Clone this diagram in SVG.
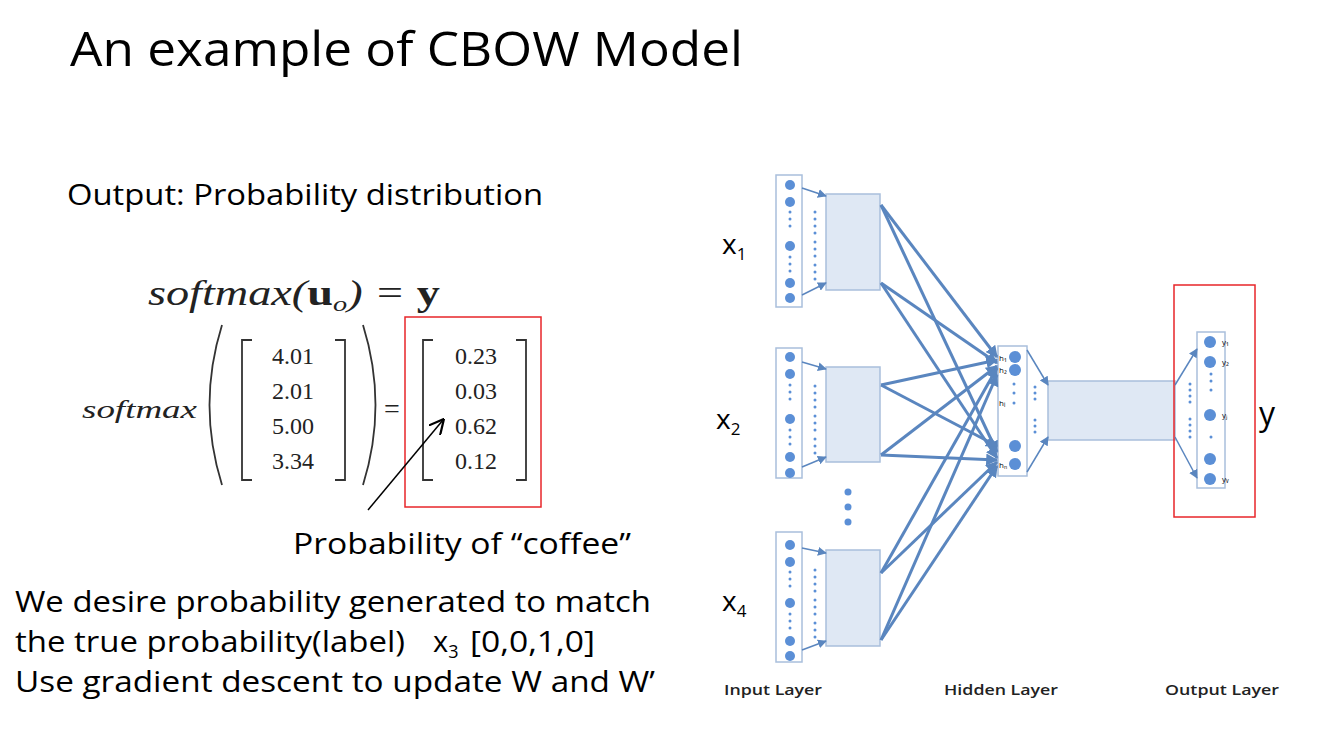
<svg xmlns="http://www.w3.org/2000/svg" width="1319" height="736" viewBox="0 0 1319 736">
<defs>
<style>
.t{font-family:"Open Sans","Liberation Sans",sans-serif;fill:#000}
.m{font-family:"Liberation Serif",serif;fill:#222}
.col{fill:#fff;stroke:#a9bfdc;stroke-width:1.5}
.mat{fill:#dfe8f4;stroke:#a9bfdc;stroke-width:1.5}
.n{fill:#5b8fd6}
.d{fill:#5b8fd6}
.a{stroke:#5a86bf;stroke-width:3;fill:none;marker-end:url(#ah)}
.s{stroke:#5a86bf;stroke-width:1.5;fill:none;marker-end:url(#as)}
.lab{font-family:"Open Sans","Liberation Sans",sans-serif;font-size:15px;font-weight:600;fill:#222}
.br{stroke:#333;stroke-width:1.8;fill:none}
</style>
<marker id="ah" viewBox="0 0 10 10" refX="9" refY="5" markerWidth="4" markerHeight="4" orient="auto"><path d="M0,0L10,5L0,10z" fill="#5a86bf"/></marker>
<marker id="as" viewBox="0 0 10 10" refX="9" refY="5" markerWidth="6" markerHeight="6" orient="auto"><path d="M0,0L10,5L0,10z" fill="#5a86bf"/></marker>
<marker id="bk" viewBox="0 0 10 10" refX="9" refY="5" markerWidth="10" markerHeight="10" orient="auto"><path d="M0,0L10,5L0,10" fill="none" stroke="#000" stroke-width="1.5"/></marker>
</defs>
<rect width="1319" height="736" fill="#fff"/>
<g id="title"><text class="t" x="70" y="66" font-size="48" textLength="673" lengthAdjust="spacingAndGlyphs">An example of CBOW Model</text></g>
<g id="left-text">
<text class="t" x="67" y="205" font-size="30" textLength="476" lengthAdjust="spacingAndGlyphs">Output: Probability distribution</text>
<text class="m" x="148" y="305" font-size="36" font-style="italic" textLength="292" lengthAdjust="spacingAndGlyphs">softmax(<tspan font-weight="bold" font-style="normal">u</tspan><tspan font-size="22" dy="6">o</tspan><tspan dy="-6">) = </tspan><tspan font-weight="bold" font-style="normal">y</tspan></text>
<text class="m" x="82" y="418" font-size="26" font-style="italic" textLength="115" lengthAdjust="spacingAndGlyphs">softmax</text>
<path class="br" d="M222,325 Q197,405 222,485"/>
<path class="br" d="M363,325 Q388,405 363,485"/>
<path class="br" d="M252,340 H242 V480 H252"/>
<path class="br" d="M335,340 H345 V480 H335"/>
<text class="m" font-size="24" text-anchor="middle"><tspan x="293" y="364">4.01</tspan><tspan x="293" y="399">2.01</tspan><tspan x="293" y="434">5.00</tspan><tspan x="293" y="469">3.34</tspan></text>
<text class="m" x="384" y="418" font-size="28">=</text>
<path class="br" d="M433,340 H423 V480 H433"/>
<path class="br" d="M516,340 H526 V480 H516"/>
<text class="m" font-size="24" text-anchor="middle"><tspan x="476" y="364">0.23</tspan><tspan x="476" y="399">0.03</tspan><tspan x="476" y="434">0.62</tspan><tspan x="476" y="469">0.12</tspan></text>
<rect x="405" y="317" width="136" height="190" fill="none" stroke="#e8262a" stroke-width="1.5"/>
<line x1="368" y1="510" x2="443" y2="420" stroke="#000" stroke-width="1.5" marker-end="url(#bk)"/>
<text class="t" x="293" y="554" font-size="29" textLength="338" lengthAdjust="spacingAndGlyphs">Probability of “coffee”</text>
<text class="t" x="15" y="612" font-size="29" textLength="636" lengthAdjust="spacingAndGlyphs">We desire probability generated to match</text>
<text class="t" x="15" y="652" font-size="29" textLength="390" lengthAdjust="spacingAndGlyphs">the true probability(label)</text>
<text class="t" x="433" y="652" font-size="29">x<tspan font-size="18" dy="6">3</tspan></text>
<text class="t" x="470" y="652" font-size="29" textLength="125" lengthAdjust="spacingAndGlyphs">[0,0,1,0]</text>
<text class="t" x="15" y="692" font-size="29" textLength="640" lengthAdjust="spacingAndGlyphs">Use gradient descent to update W and W’</text>
</g>
<g id="input1">
<rect class="col" x="776" y="175" width="26" height="132"/>
<circle class="n" cx="790" cy="185" r="5"/><circle class="n" cx="790" cy="202" r="5"/><circle class="n" cx="790" cy="246" r="5"/><circle class="n" cx="790" cy="283" r="5"/><circle class="n" cx="790" cy="298" r="5"/>
<g class="d"><circle cx="790" cy="212" r="1.5"/><circle cx="790" cy="219" r="1.5"/><circle cx="790" cy="226" r="1.5"/><circle cx="790" cy="257" r="1.5"/><circle cx="790" cy="264" r="1.5"/><circle cx="790" cy="271" r="1.5"/>
<circle cx="815" cy="212" r="1.5"/><circle cx="815" cy="219" r="1.5"/><circle cx="815" cy="226" r="1.5"/><circle cx="815" cy="233" r="1.5"/><circle cx="815" cy="242" r="1.5"/><circle cx="815" cy="249" r="1.5"/><circle cx="815" cy="256" r="1.5"/><circle cx="815" cy="265" r="1.5"/><circle cx="815" cy="272" r="1.5"/><circle cx="815" cy="279" r="1.5"/></g>
<rect class="mat" x="826" y="194" width="54" height="96"/>
<text class="t" x="722" y="254" font-size="28">x<tspan font-size="17" dy="6">1</tspan></text>
</g>
<g id="input2">
<rect class="col" x="776" y="348" width="26" height="130"/>
<circle class="n" cx="790" cy="357" r="5"/><circle class="n" cx="790" cy="374" r="5"/><circle class="n" cx="790" cy="419" r="5"/><circle class="n" cx="790" cy="457" r="5"/><circle class="n" cx="790" cy="473" r="5"/>
<g class="d"><circle cx="790" cy="385" r="1.5"/><circle cx="790" cy="392" r="1.5"/><circle cx="790" cy="399" r="1.5"/><circle cx="790" cy="430" r="1.5"/><circle cx="790" cy="437" r="1.5"/><circle cx="790" cy="444" r="1.5"/>
<circle cx="815" cy="386" r="1.5"/><circle cx="815" cy="393" r="1.5"/><circle cx="815" cy="400" r="1.5"/><circle cx="815" cy="407" r="1.5"/><circle cx="815" cy="416" r="1.5"/><circle cx="815" cy="423" r="1.5"/><circle cx="815" cy="430" r="1.5"/><circle cx="815" cy="439" r="1.5"/><circle cx="815" cy="446" r="1.5"/><circle cx="815" cy="453" r="1.5"/></g>
<rect class="mat" x="826" y="367" width="54" height="95"/>
<text class="t" x="716" y="429" font-size="28">x<tspan font-size="17" dy="6">2</tspan></text>
</g>
<g id="input-dots" class="n"><circle cx="848" cy="492" r="3.5"/><circle cx="848" cy="507" r="3.5"/><circle cx="848" cy="522" r="3.5"/></g>
<g id="input4">
<rect class="col" x="776" y="532" width="26" height="130"/>
<circle class="n" cx="790" cy="545" r="5"/><circle class="n" cx="790" cy="562" r="5"/><circle class="n" cx="790" cy="603" r="5"/><circle class="n" cx="790" cy="641" r="5"/><circle class="n" cx="790" cy="656" r="5"/>
<g class="d"><circle cx="790" cy="572" r="1.5"/><circle cx="790" cy="579" r="1.5"/><circle cx="790" cy="586" r="1.5"/><circle cx="790" cy="614" r="1.5"/><circle cx="790" cy="621" r="1.5"/><circle cx="790" cy="628" r="1.5"/>
<circle cx="815" cy="570" r="1.5"/><circle cx="815" cy="577" r="1.5"/><circle cx="815" cy="584" r="1.5"/><circle cx="815" cy="591" r="1.5"/><circle cx="815" cy="600" r="1.5"/><circle cx="815" cy="607" r="1.5"/><circle cx="815" cy="614" r="1.5"/><circle cx="815" cy="623" r="1.5"/><circle cx="815" cy="630" r="1.5"/><circle cx="815" cy="637" r="1.5"/></g>
<rect class="mat" x="826" y="550" width="54" height="96"/>
<text class="t" x="722" y="611" font-size="28">x<tspan font-size="17" dy="6">4</tspan></text>
</g>
<g id="hidden">
<rect class="col" x="998" y="346" width="29" height="130"/>
<circle class="n" cx="1015" cy="357" r="6"/><circle class="n" cx="1015" cy="370" r="6"/><circle class="n" cx="1015" cy="446" r="6"/><circle class="n" cx="1015" cy="464" r="6"/>
<g class="d"><circle cx="1014" cy="384" r="1.5"/><circle cx="1014" cy="393" r="1.5"/><circle cx="1014" cy="403" r="1.5"/>
<circle cx="1035" cy="387" r="1.5"/><circle cx="1035" cy="393" r="1.5"/><circle cx="1035" cy="399" r="1.5"/><circle cx="1035" cy="420" r="1.5"/><circle cx="1035" cy="426" r="1.5"/><circle cx="1035" cy="432" r="1.5"/></g>
<text class="t" font-size="8"><tspan x="999" y="361">h₁</tspan><tspan x="999" y="373">h₂</tspan><tspan x="999" y="406">hᵢ</tspan><tspan x="999" y="468">hₙ</tspan></text>
<rect class="mat" x="1048" y="381" width="127" height="59"/>
</g>
<g id="output">
<rect class="col" x="1197" y="332" width="28" height="156"/>
<circle class="n" cx="1210" cy="342" r="6"/><circle class="n" cx="1210" cy="362" r="6"/><circle class="n" cx="1210" cy="415" r="6"/><circle class="n" cx="1210" cy="459" r="6"/><circle class="n" cx="1210" cy="479" r="6"/>
<g class="d"><circle cx="1211" cy="374" r="1.5"/><circle cx="1211" cy="381" r="1.5"/><circle cx="1211" cy="390" r="1.5"/><circle cx="1211" cy="437" r="1.5"/>
<circle cx="1190" cy="384" r="1.5"/><circle cx="1190" cy="390" r="1.5"/><circle cx="1190" cy="396" r="1.5"/><circle cx="1190" cy="402" r="1.5"/><circle cx="1190" cy="419" r="1.5"/><circle cx="1190" cy="425" r="1.5"/><circle cx="1190" cy="431" r="1.5"/><circle cx="1190" cy="437" r="1.5"/></g>
<text class="t" font-size="8"><tspan x="1222" y="345">y₁</tspan><tspan x="1222" y="365">y₂</tspan><tspan x="1222" y="418">yⱼ</tspan><tspan x="1222" y="482">yᵥ</tspan></text>
<rect x="1174" y="285" width="81" height="232" fill="none" stroke="#e8262a" stroke-width="1.5"/>
<text class="t" x="1259" y="425" font-size="32">y</text>
</g>
<g id="connectors">
<line class="s" x1="802" y1="188" x2="826" y2="196"/><line class="s" x1="802" y1="295" x2="826" y2="283"/>
<line class="s" x1="802" y1="362" x2="826" y2="369"/><line class="s" x1="802" y1="467" x2="826" y2="457"/>
<line class="s" x1="802" y1="548" x2="826" y2="553"/><line class="s" x1="802" y1="650" x2="826" y2="641"/>
<line class="a" x1="881" y1="205" x2="997" y2="357"/><line class="a" x1="881" y1="205" x2="997" y2="452"/>
<line class="a" x1="881" y1="283" x2="997" y2="363"/><line class="a" x1="881" y1="283" x2="997" y2="458"/>
<line class="a" x1="881" y1="385" x2="997" y2="360"/><line class="a" x1="881" y1="385" x2="997" y2="446"/>
<line class="a" x1="881" y1="455" x2="997" y2="366"/><line class="a" x1="881" y1="455" x2="997" y2="460"/>
<line class="a" x1="881" y1="573" x2="997" y2="368"/><line class="a" x1="881" y1="573" x2="997" y2="462"/>
<line class="a" x1="881" y1="640" x2="997" y2="375"/><line class="a" x1="881" y1="640" x2="997" y2="466"/>
<line class="s" x1="1027" y1="350" x2="1048" y2="385"/><line class="s" x1="1027" y1="472" x2="1048" y2="437"/>
<line class="s" x1="1175" y1="385" x2="1197" y2="349"/><line class="s" x1="1175" y1="437" x2="1197" y2="478"/>
</g>
<g id="layer-labels"><text class="lab" x="724" y="695" textLength="98" lengthAdjust="spacingAndGlyphs">Input Layer</text><text class="lab" x="944" y="695" textLength="114" lengthAdjust="spacingAndGlyphs">Hidden Layer</text><text class="lab" x="1165" y="695" textLength="114" lengthAdjust="spacingAndGlyphs">Output Layer</text></g>
</svg>
